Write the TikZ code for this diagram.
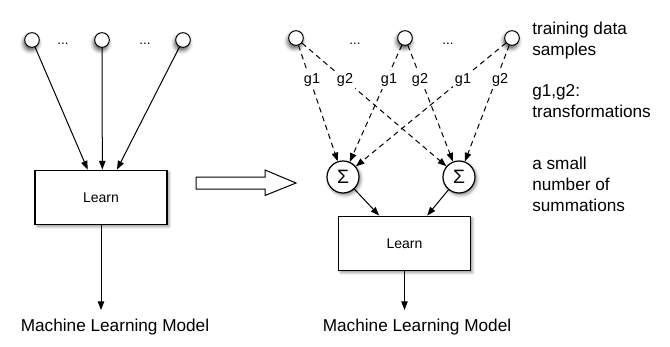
\documentclass[tikz,border=0pt]{standalone}
\usepackage{fontspec}
\setmainfont{Liberation Sans}
\usetikzlibrary{arrows.meta,calc,shadows.blur}
\begin{document}
\begin{tikzpicture}[x=0.75pt,y=-0.75pt,
  every node/.style={font=\fontsize{12.9}{15.75}\selectfont},
  conn/.style={line width=0.75pt,-{Triangle[length=6.5pt,width=4.8pt]}},
  dconn/.style={conn,dash pattern=on 4pt off 3pt},
  sample/.style={circle,draw,line width=0.75pt,fill=white,minimum size=11pt,inner sep=0pt,
    blur shadow={shadow xshift=-0.8pt,shadow yshift=-2.5pt,shadow blur radius=3pt,shadow opacity=65}},
  learnbox/.style={draw,line width=0.9pt,fill=white,minimum width=99pt,minimum height=41pt,inner sep=0pt,
    font=\fontsize{10.5}{12}\selectfont,
    blur shadow={shadow xshift=1.5pt,shadow yshift=-1.5pt,shadow blur radius=2pt,shadow opacity=40}},
  sumnode/.style={circle,draw,line width=0.9pt,fill=white,minimum size=24pt,inner sep=0pt,
    font=\fontsize{14.5}{14.5}\selectfont,
    blur shadow={shadow xshift=1.2pt,shadow yshift=-1.5pt,shadow blur radius=2.5pt,shadow opacity=50}},
  glabel/.style={fill=white,inner sep=1.8pt,font=\fontsize{10.8}{12}\selectfont},
  dots/.style={inner sep=1pt,font=\fontsize{10}{12}\selectfont},
  side/.style={anchor=north west,align=left,inner sep=0pt}
]
\useasboundingbox (0,0) rectangle (670,346);

% ---------- left diagram ----------
\node[sample] (l1) at (32,40) {};
\node[sample] (l2) at (102,40) {};
\node[sample] (l3) at (183,40) {};
\node[dots] (ld1) at (63,44) {...};
\node[dots] (ld2) at (145,44) {...};
\node[learnbox] (lbox) at (101,197.5) {Learn};
\draw[conn] (l1) -- ($(lbox.north west)!0.40!(lbox.north east)$);
\draw[conn] (l2) -- ($(lbox.north west)!0.51!(lbox.north east)$);
\draw[conn] (l3) -- ($(lbox.north west)!0.62!(lbox.north east)$);
\coordinate (lend) at (101,310);
\draw[conn] (lbox) -- (lend);
\node (lml) at (115,327.5) {Machine Learning Model};

% ---------- hollow arrow ----------
\draw[line width=0.75pt,fill=white] (196,177) -- (265,177) -- (265,170) -- (296,183)
  -- (265,195.5) -- (265,189) -- (196,189) -- cycle;

% ---------- right diagram ----------
\node[sample] (r1) at (296,38) {};
\node[sample] (r2) at (405,38) {};
\node[sample] (r3) at (512,38) {};
\node[dots] (rd1) at (355,44) {...};
\node[dots] (rd2) at (448,44) {...};
\node[sumnode] (s1) at (343,177) {Σ};
\node[sumnode] (s2) at (459,177) {Σ};
\node[learnbox] (rbox) at (404.5,243.5) {Learn};

\draw[dconn] (r1) -- (s1);
\draw[dconn] (r1) -- (s2);
\draw[dconn] (r2) -- (s1);
\draw[dconn] (r2) -- (s2);
\draw[dconn] (r3) -- (s1);
\draw[dconn] (r3) -- (s2);

\node[glabel] (g11) at (312,80) {g1};
\node[glabel] (g12) at (345,80) {g2};
\node[glabel] (g21) at (389,80) {g1};
\node[glabel] (g22) at (420,80) {g2};
\node[glabel] (g31) at (463,80) {g1};
\node[glabel] (g32) at (500,80) {g2};

\draw[conn] (s1) -- ($(rbox.north west)!0.31!(rbox.north east)$);
\draw[conn] (s2) -- ($(rbox.north west)!0.67!(rbox.north east)$);
\coordinate (rend) at (404.5,310);
\draw[conn] (rbox) -- (rend);
\node (rml) at (417,327.5) {Machine Learning Model};

% ---------- side notes ----------
\node[side] (t1) at (532,21.5) {training data\\samples};
\node[side] (t2) at (532,84) {g1,g2:\\transformations};
\node[side] (t3) at (532,156.5) {a small\\number of\\summations};
\end{tikzpicture}
\end{document}
